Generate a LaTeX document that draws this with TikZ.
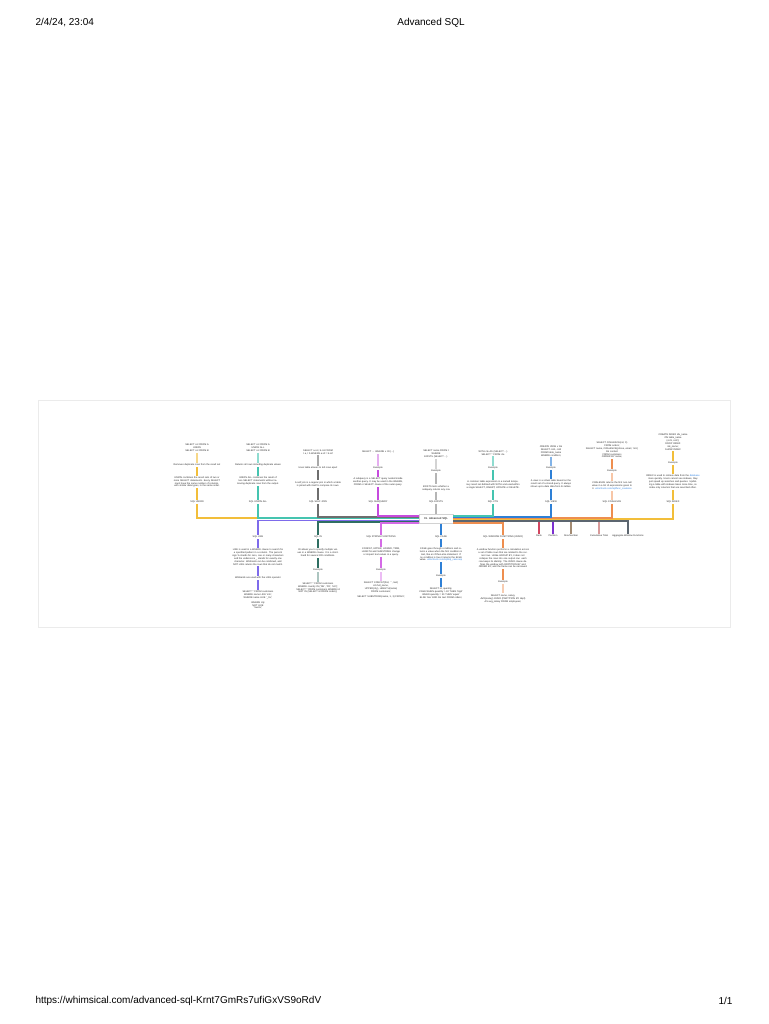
\documentclass[tikz,border=0pt]{standalone}
\usepackage{fontspec}
\setmainfont{Liberation Sans}
\definecolor{cyellow}{HTML}{F2BE3A}
\definecolor{cteal}{HTML}{45C4B0}
\definecolor{cgray}{HTML}{6E6E6E}
\definecolor{cmagenta}{HTML}{C64BDE}
\definecolor{cpurple}{HTML}{7E6BEB}
\definecolor{cgreen}{HTML}{2F6E62}
\definecolor{cpink}{HTML}{D46AE6}
\definecolor{clight}{HTML}{B5B5B5}
\definecolor{cblue}{HTML}{2E80D6}
\definecolor{corange}{HTML}{EE8E4F}
\definecolor{cred}{HTML}{D24660}
\definecolor{cviolet}{HTML}{7B2FD0}
\definecolor{cbrown}{HTML}{A38B73}
\definecolor{crose}{HTML}{D89B9B}
\definecolor{cslate}{HTML}{5C6670}
\definecolor{clink}{HTML}{2A7FE0}
\tikzset{
    txt/.style = {font=\fontsize{2.4}{2.9}\selectfont, text=black!85, align=center, text width=54pt, inner sep=0.8pt},
    lbl/.style = {font=\fontsize{2.4}{2.9}\selectfont, text=black!85, inner sep=0.8pt},
    ln/.style = {line width=1.1pt},
    elb/.style = {to path={-| (\tikztotarget)}},
}
\newcommand{\weblink}[1]{\textcolor{clink}{#1}}
\begin{document}
\begin{tikzpicture}[x=1pt, y=-1pt]
    \useasboundingbox (0,0) rectangle (768,1024);

    % page header and footer
    \node (date) [anchor=west, font=\fontsize{10}{12}\selectfont] at (32,23) {2/4/24, 23:04};
    \node (title) [font=\fontsize{10}{12}\selectfont] at (431,23) {Advanced SQL};
    \node (url) [anchor=west, font=\fontsize{10}{12}\selectfont] at (32,1001) {https://whimsical.com/advanced-sql-Krnt7GmRs7ufiGxVS9oRdV};
    \node (pages) [anchor=east, font=\fontsize{10}{12}\selectfont] at (736,1001) {1/1};

    % board
    \draw[black!8, line width=0.7pt] (38,400) rectangle (730,627);

    \node (root) [draw=gray!35, fill=white, font=\fontsize{2.8}{3.4}\selectfont, minimum width=34pt, minimum height=9pt, inner sep=0.8pt] at (436,519) {01. Advanced SQL};

    % upper left
    \draw
        (197,502) node (unionL) [lbl] {SQL UNION}
        (197,482) node (unionP) [txt] {UNION combines the result sets of two or more SELECT statements. Every SELECT must have the same number of columns, with similar data types, in the same order.}
        (197,465) node (unionN) [txt] {Removes duplicate rows from the result set}
        (197,448) node (unionX) [txt] {SELECT col FROM A\\UNION\\SELECT col FROM B}

        (258,502) node (unionallL) [lbl] {SQL UNION ALL}
        (258,481) node (unionallP) [txt] {UNION ALL combines the result of two SELECT statements without removing duplicate rows from the output.}
        (258,465) node (unionallN) [txt] {Returns all rows including duplicate values}
        (258,448) node (unionallX) [txt] {SELECT col FROM A\\UNION ALL\\SELECT col FROM B}

        (318,502) node (selfL) [lbl] {SQL SELF JOIN}
        (318,484) node (selfP) [txt] {A self join is a regular join in which a table is joined with itself to compare its rows.}
        (318,468) node (selfN) [txt] {Uses table aliases to tell rows apart}
        (318,452) node (selfX) [txt] {SELECT a.col, b.col FROM t a, t b WHERE a.id = b.ref}

        (378,502) node (subL) [lbl] {SQL SUBQUERY}
        (378,482) node (subP) [txt] {A subquery is a SELECT query nested inside another query. It may be used in the WHERE, FROM or SELECT clause of the outer query.}
        (378,468) node (subE) [lbl] {Example}
        (378,452) node (subX) [txt] {SELECT ... WHERE x IN (...)}

        (unionX) edge[ln, cyellow!60] (unionN)
        (unionN) edge[ln, cyellow] (unionP)
        (unionP) edge[ln, cyellow] (unionL)
        (unionallX) edge[ln, cteal!60] (unionallN)
        (unionallN) edge[ln, cteal] (unionallP)
        (unionallP) edge[ln, cteal] (unionallL)
        (selfX) edge[ln, cgray!60] (selfN)
        (selfN) edge[ln, cgray] (selfP)
        (selfP) edge[ln, cgray] (selfL)
        (subX) edge[ln, cmagenta!45] (subE)
        (subE) edge[ln, cmagenta] (subP)
        (subP) edge[ln, cmagenta] (subL)
    ;

    % upper right
    \draw
        (436,502) node (existsL) [lbl] {SQL EXISTS}
        (436,488) node (existsP) [txt] {EXISTS tests whether a subquery returns any row}
        (436,471) node (existsE) [lbl] {Example}
        (436,454) node (existsX) [txt] {SELECT name FROM t\\WHERE\\EXISTS (SELECT ...)}

        (493,502) node (cteL) [lbl] {SQL CTE}
        (493,485) node (cteP) [txt] {A common table expression is a named temporary result set defined with WITH and used within a single SELECT, INSERT, UPDATE or DELETE.}
        (493,468) node (cteE) [lbl] {Example}
        (493,453) node (cteX) [txt] {WITH cte AS (SELECT ...)\\SELECT * FROM cte}

        (551,502) node (viewL) [lbl] {SQL VIEW}
        (551,484) node (viewP) [txt] {A view is a virtual table based on the result set of a stored query. It always shows up-to-date data from its tables.}
        (551,468) node (viewE) [lbl] {Example}
        (551,451) node (viewX) [txt] {CREATE VIEW v AS\\SELECT col1, col2\\FROM table\_name\\WHERE condition;}

        (612,502) node (coalL) [lbl] {SQL COALESCE}
        (612,486) node (coalP) [txt] {COALESCE returns the first non-null value in a list of expressions given to it. \weblink{w3schools.com/sql/func\_coalesce}}
        (612,471) node (coalE) [lbl] {Example}
        (612,450) node (coalX) [txt] {SELECT COALESCE(col, 0)\\FROM orders;\\SELECT name, COALESCE(phone, email, 'n/a')\\AS contact\\FROM customers\\ORDER BY name;}

        (673,502) node (indexL) [lbl] {SQL INDEX}
        (673,482) node (indexP) [txt] {INDEX is used to retrieve data from the \weblink{database} more quickly. Users cannot see indexes, they just speed up searches and queries. Updating a table with indexes takes more time, so index only columns that are searched often.}
        (673,463) node (indexE) [lbl] {Example}
        (673,442) node (indexX) [txt] {CREATE INDEX idx\_name\\ON table\_name\\(col1, col2);\\DROP INDEX\\idx\_name;\\SHOW INDEX}

        (existsX) edge[ln, clight!60] (existsE)
        (existsE) edge[ln, clight] (existsP)
        (existsP) edge[ln, clight] (existsL)
        (cteX) edge[ln, cteal!60] (cteE)
        (cteE) edge[ln, cteal] (cteP)
        (cteP) edge[ln, cteal] (cteL)
        (viewX) edge[ln, cblue!60] (viewE)
        (viewE) edge[ln, cblue] (viewP)
        (viewP) edge[ln, cblue] (viewL)
        (coalX) edge[ln, corange] (coalE)
        (coalE) edge[ln, corange!50] (coalP)
        (coalP) edge[ln, corange!50] (coalL)
        (indexX) edge[ln, cyellow] (indexE)
        (indexE) edge[ln, cyellow] (indexP)
        (indexP) edge[ln, cyellow] (indexL)
    ;

    % lower left
    \draw
        (258,537) node (likeL) [lbl] {SQL LIKE}
        (258,557) node (likeP) [txt] {LIKE is used in a WHERE clause to search for a specified pattern in a column. The percent sign \% stands for zero, one or many characters and the underscore \_ stands for exactly one character. Wildcards can be combined, and NOT LIKE returns the rows that do not match.}
        (258,578) node (likeN) [txt] {Wildcards are used with the LIKE operator}
        (258,600) node (likeX) [txt] {SELECT * FROM customers\\WHERE name LIKE 'a\%';\\WHERE name LIKE '\_r\%';\\[2pt]WHERE city\\NOT LIKE\\'\%es\%';}

        (318,537) node (inL) [lbl] {SQL IN}
        (318,553) node (inP) [txt] {IN allows you to specify multiple values in a WHERE clause. It is a shorthand for several OR conditions.}
        (318,570) node (inE) [lbl] {Example}
        (318,588) node (inX) [txt] {SELECT * FROM customers\\WHERE country IN ('DE', 'FR', 'UK');\\SELECT * FROM customers WHERE id\\NOT IN (SELECT id FROM orders);}

        (381,537) node (strL) [lbl] {SQL STRING FUNCTIONS}
        (381,552) node (strP) [txt] {CONCAT, UPPER, LOWER, TRIM, LENGTH and SUBSTRING change or inspect text values in a query.}
        (381,570) node (strE) [lbl] {Example}
        (381,590) node (strX) [txt] {SELECT CONCAT(first, ' ', last)\\AS full\_name,\\UPPER(city), LENGTH(name)\\FROM customers;\\[2pt]SELECT SUBSTRING(name, 1, 3) FROM t;}

        (likeL) edge[ln, cpurple] (likeP)
        (likeP) edge[ln, cpurple] (likeN)
        (likeN) edge[ln, cpurple] (likeX)
        (inL) edge[ln, cgreen] (inP)
        (inP) edge[ln, cgreen] (inE)
        (inE) edge[ln, cgreen!40] (inX)
        (strL) edge[ln, cpink] (strP)
        (strP) edge[ln, cpink] (strE)
        (strE) edge[ln, cpink!45] (strX)
    ;

    % lower right
    \draw
        (441,537) node (caseL) [lbl] {SQL CASE}
        (441,554.5) node (caseP) [txt] {CASE goes through conditions and returns a value when the first condition is met, like an if-then-else statement. If no condition is true it returns the ELSE value. \weblink{w3schools.com/sql/sql\_case.asp}}
        (441,576) node (caseE) [lbl] {Example}
        (441,593) node (caseX) [txt] {SELECT id, quantity,\\CASE WHEN quantity > 30 THEN 'high'\\WHEN quantity = 30 THEN 'equal'\\ELSE 'low' END AS text FROM orders;}

        (503,537) node (winL) [lbl] {SQL WINDOW FUNCTIONS (OVER)}
        (503,558.5) node (winP) [txt] {A window function performs a calculation across a set of table rows that are related to the current row. Unlike GROUP BY, it does not collapse the rows into one output row: each row keeps its identity. The OVER clause defines the window with PARTITION BY and ORDER BY, and the frame can be narrowed.}
        (503,582) node (winE) [lbl] {Example}
        (503,598.5) node (winX) [txt] {SELECT name, salary,\\AVG(salary) OVER (PARTITION BY dept)\\AS avg\_salary FROM employees;}

        (539,536) node (rankL) [lbl] {Rank}
        (553,536) node (partL) [lbl] {Partition}
        (571,536) node (rownumL) [lbl] {Row Number}
        (599,536) node (cumL) [lbl] {Cumulative Total}
        (628,536) node (aggL) [lbl] {Aggregate Window Functions}

        (caseL) edge[ln, cblue] (caseP)
        (caseP) edge[ln, cblue] (caseE)
        (caseE) edge[ln, cblue] (caseX)
        (winL) edge[ln, corange] (winP)
        (winP) edge[ln, corange] (winE)
        (winE) edge[ln, corange!45] (winX)
    ;

    % links to the root
    \draw[ln]
        ([yshift=1pt]root.west) edge[elb, cyellow] (unionL.south)
        ([yshift=1pt]root.west) edge[elb, cteal] (unionallL.south)
        ([yshift=2pt]root.west) edge[elb, cgray] (selfL.south)
        ([yshift=3pt]root.west) edge[elb, cmagenta] (subL.south)
        ([yshift=-1.5pt]root.west) edge[elb, cpurple] (likeL.north)
        ([yshift=-3pt]root.west) edge[elb, cgreen] (inL.north)
        ([yshift=-4pt]root.west) edge[elb, cpink] (strL.north)

        (root.north) edge[clight] (existsL.south)
        ([yshift=0pt]root.east) edge[elb, cyellow] (indexL.south)
        ([yshift=1pt]root.east) edge[elb, corange] (coalL.south)
        ([yshift=2pt]root.east) edge[elb, cblue] (viewL.south)
        ([yshift=3pt]root.east) edge[elb, cteal] (cteL.south)

        ([xshift=5pt]root.south) edge[cblue] (caseL.north)
        ([yshift=-4pt]root.east) edge[elb, corange] (winL.north)
        ([yshift=-2pt]root.east) edge[elb, cred] (rankL.north)
        ([yshift=-2pt]root.east) edge[elb, cviolet] (partL.north)
        ([yshift=-2pt]root.east) edge[elb, cbrown] (rownumL.north)
        ([yshift=-2pt]root.east) edge[elb, crose] (cumL.north)
        ([yshift=-2pt]root.east) edge[elb, cslate] (aggL.north)
    ;
\end{tikzpicture}
\end{document}
